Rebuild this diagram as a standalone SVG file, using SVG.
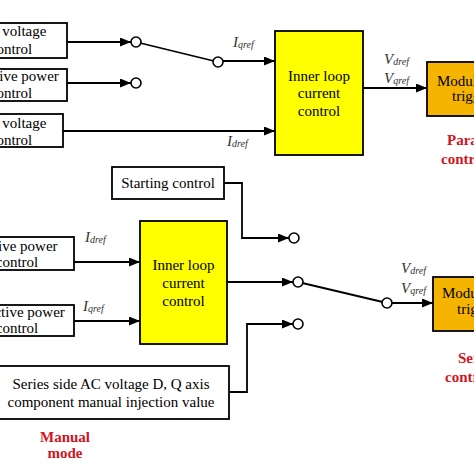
<svg xmlns="http://www.w3.org/2000/svg" width="474" height="474" viewBox="0 0 474 474">
<style>
.box{fill:#fff;stroke:#000;stroke-width:1.8}
.yel{fill:#ffff00;stroke:#000;stroke-width:1.8}
.org{fill:#f5b400;stroke:#000;stroke-width:1.8}
.t{font-family:"Liberation Serif",serif;font-size:15px;fill:#000}
.c{text-anchor:middle}
.red{font-family:"Liberation Serif",serif;font-size:15px;font-weight:bold;fill:#d0141e}
.lab{font-family:"Liberation Serif",serif;font-size:15px;font-style:italic;fill:#333}
.sub{font-size:10px}
.ln{fill:none;stroke:#000;stroke-width:1.8}
.arr{marker-end:url(#ah)}
.sw{fill:#fff;stroke:#000;stroke-width:1.6}
</style>
<defs>
<marker id="ah" markerUnits="userSpaceOnUse" markerWidth="11" markerHeight="9" refX="11" refY="4.5" orient="auto">
<path d="M0,0 L11,4.5 L0,9 z" fill="#000"/>
</marker>
</defs>
<rect width="474" height="474" fill="#fff"/>

<g id="connectors">
<path class="ln arr" d="M67,42 H131"/>
<path class="ln" d="M136,42 L218,62"/>
<path class="ln arr" d="M223,61 H275"/>
<path class="ln arr" d="M67,83 H131"/>
<path class="ln arr" d="M63,131 H275"/>
<path class="ln arr" d="M363,88 H427"/>
<path class="ln arr" d="M224,183 H242 V238 H289"/>
<path class="ln arr" d="M74,262 H140"/>
<path class="ln arr" d="M74,321 H140"/>
<path class="ln arr" d="M227,282 H293"/>
<path class="ln" d="M298,282 L387,303"/>
<path class="ln arr" d="M392,303 H433"/>
<path class="ln arr" d="M229,392 H247 V324 H293"/>
<circle class="sw" cx="136" cy="42" r="5"/>
<circle class="sw" cx="136" cy="83" r="5"/>
<circle class="sw" cx="218" cy="62" r="5"/>
<circle class="sw" cx="294" cy="238" r="5"/>
<circle class="sw" cx="298" cy="282" r="5"/>
<circle class="sw" cx="387" cy="303" r="5"/>
<circle class="sw" cx="298" cy="324" r="5"/>
<text class="lab" x="233" y="47">I<tspan class="sub" dy="1">qref</tspan></text>
<text class="lab" x="227" y="146">I<tspan class="sub" dy="1">dref</tspan></text>
<text class="lab" x="384" y="64">V<tspan class="sub" dy="1">dref</tspan></text>
<text class="lab" x="384" y="83">V<tspan class="sub" dy="1">qref</tspan></text>
<text class="lab" x="85" y="242">I<tspan class="sub" dy="1">dref</tspan></text>
<text class="lab" x="83" y="311">I<tspan class="sub" dy="1">qref</tspan></text>
<text class="lab" x="401" y="273">V<tspan class="sub" dy="1">dref</tspan></text>
<text class="lab" x="401" y="293">V<tspan class="sub" dy="1">qref</tspan></text>
</g>

<g id="ac-voltage-top">
<rect class="box" x="-3" y="23" width="70" height="35"/>
<text class="t c" x="12" y="36">AC voltage</text>
<text class="t c" x="11" y="54">control</text>
</g>
<g id="reactive-power-top">
<rect class="box" x="-3" y="69" width="70" height="32"/>
<text class="t c" x="12" y="81">Reactive power</text>
<text class="t c" x="11" y="98">control</text>
</g>
<g id="dc-voltage-top">
<rect class="box" x="-3" y="114" width="66" height="33"/>
<text class="t c" x="12" y="128">DC voltage</text>
<text class="t c" x="11" y="145">control</text>
</g>
<g id="inner-loop-top">
<rect class="yel" x="275" y="31" width="88" height="124"/>
<text class="t c" x="319" y="81">Inner loop</text>
<text class="t c" x="319" y="98">current</text>
<text class="t c" x="319" y="116">control</text>
</g>
<g id="modulation-top">
<rect class="org" x="427" y="62" width="70" height="54"/>
<text class="t c" x="472" y="86">Modulation</text>
<text class="t c" x="472" y="101">trigger</text>
</g>
<g id="parallel-label">
<text class="red" x="447" y="145">Parallel</text>
<text class="red" x="441" y="164">control</text>
</g>

<g id="starting-control">
<rect class="box" x="112" y="167" width="112" height="32"/>
<text class="t c" x="168" y="188">Starting control</text>
</g>
<g id="active-power-bottom">
<rect class="box" x="-3" y="237" width="77" height="33"/>
<text class="t c" x="17" y="251">Active power</text>
<text class="t c" x="17" y="267">control</text>
</g>
<g id="reactive-power-bottom">
<rect class="box" x="-3" y="305" width="77" height="31"/>
<text class="t c" x="18" y="317">Reactive power</text>
<text class="t c" x="17" y="333">control</text>
</g>
<g id="inner-loop-bottom">
<rect class="yel" x="140" y="221" width="87" height="123"/>
<text class="t c" x="183.5" y="270">Inner loop</text>
<text class="t c" x="183.5" y="288">current</text>
<text class="t c" x="183.5" y="306">control</text>
</g>
<g id="modulation-bottom">
<rect class="org" x="433" y="277" width="70" height="54"/>
<text class="t c" x="477" y="298">Modulation</text>
<text class="t c" x="477" y="314">trigger</text>
</g>
<g id="series-label">
<text class="red" x="458" y="363">Series</text>
<text class="red" x="445" y="382">control</text>
</g>
<g id="manual-injection">
<rect class="box" x="-3" y="366" width="232" height="53"/>
<text class="t c" x="111" y="389">Series side AC voltage D, Q axis</text>
<text class="t c" x="111" y="407">component manual injection value</text>
</g>
<g id="manual-label">
<text class="red c" x="65" y="442">Manual</text>
<text class="red c" x="65" y="458">mode</text>
</g>
</svg>
